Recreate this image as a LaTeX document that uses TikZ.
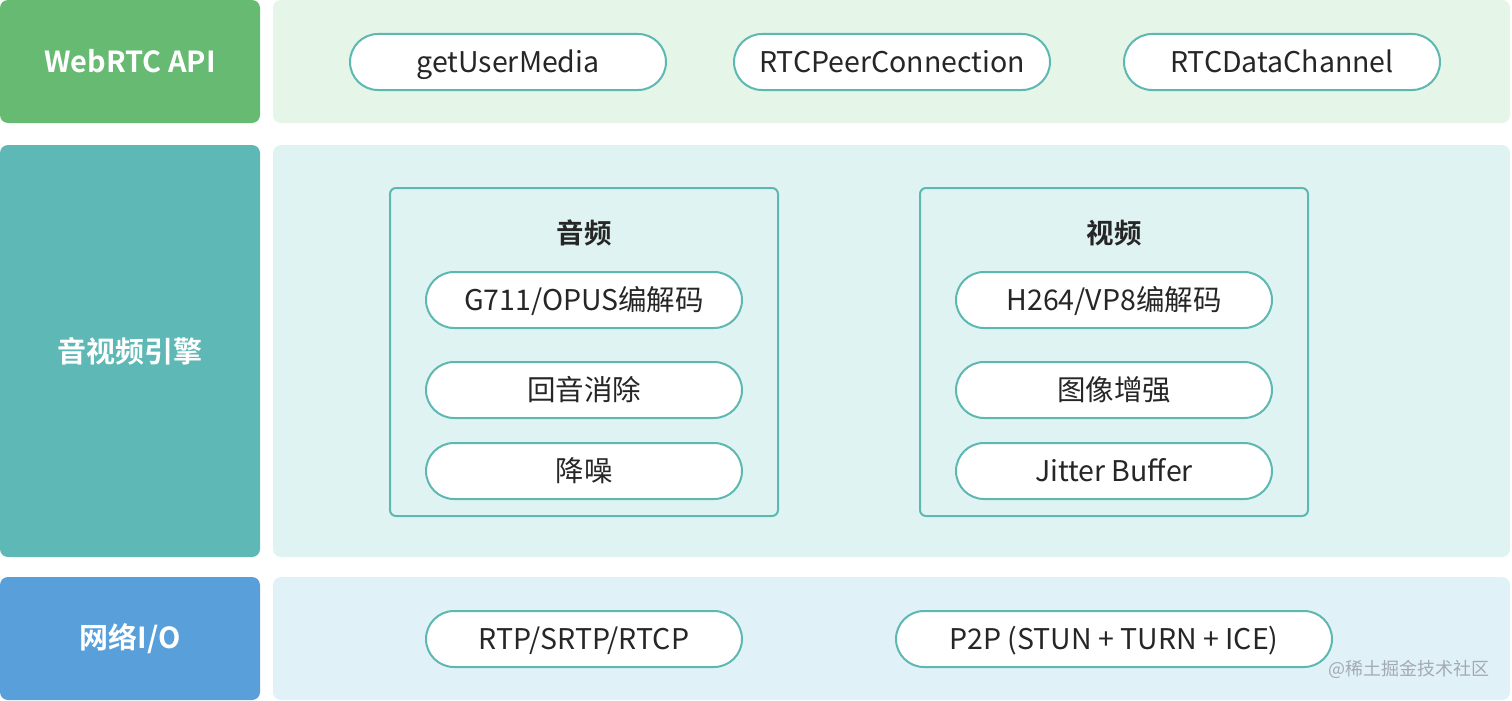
\documentclass[tikz,border=0pt]{standalone}
\usepackage{fontspec}
\setmainfont{Noto Sans CJK SC}[BoldFont={Noto Sans CJK SC Bold}]
\usetikzlibrary{positioning}
\definecolor{apigreen}{HTML}{67BA72}
\definecolor{engteal}{HTML}{5DB8B6}
\definecolor{netblue}{HTML}{599FDA}
\definecolor{apibg}{HTML}{E5F5E7}
\definecolor{engbg}{HTML}{DFF4F2}
\definecolor{netbg}{HTML}{E1F1F8}
\definecolor{pillline}{HTML}{5DB8B2}
\definecolor{marktext}{HTML}{A3AAB2}
\tikzset{
  lab/.style={rounded corners=8pt, text=white, font=\bfseries\fontsize{29}{34}\selectfont, minimum width=260pt, inner sep=0pt},
  panel/.style={rounded corners=8pt, minimum width=1237pt, inner sep=0pt},
  pill/.style={draw=pillline, line width=2pt, fill=white, rounded corners=28pt, minimum width=316pt, minimum height=56pt, inner sep=0pt, text height=24pt, text depth=3pt, text=black!85, font=\fontsize{28.5}{33}\selectfont},
  group/.style={draw=pillline, line width=2pt, rounded corners=6pt, minimum width=388pt, minimum height=328pt, inner sep=0pt},
  grouptitle/.style={font=\bfseries\fontsize{27.5}{32}\selectfont, text=black!85}
}
\begin{document}
\begin{tikzpicture}[x=1pt,y=-1pt]
\useasboundingbox (0,0) rectangle (1512,701);

\node[lab, fill=apigreen, minimum height=123pt] (api) at (130,61.5) {WebRTC API};
\node[lab, fill=engteal, minimum height=412pt] (eng) at (130,351) {音视频引擎};
\node[lab, fill=netblue, minimum height=123pt] (net) at (130,638.5) {网络I/O};

\node[panel, fill=apibg, minimum height=123pt] (apipanel) at (891.5,61.5) {};
\node[panel, fill=engbg, minimum height=412pt] (engpanel) at (891.5,351) {};
\node[panel, fill=netbg, minimum height=123pt] (netpanel) at (891.5,638.5) {};

\node[pill] (gum) at (508,62) {getUserMedia};
\node[pill] (rpc) at (892,62) {RTCPeerConnection};
\node[pill] (rdc) at (1282,62) {RTCDataChannel};

\node[group] (audio) at (584,352) {};
\node[group] (video) at (1114,352) {};
\node[grouptitle] (atitle) at (584,233) {音频};
\node[grouptitle] (vtitle) at (1114,233) {视频};

\node[pill] (acodec) at (584,300) {G711/OPUS编解码};
\node[pill] (aec) at (584,390) {回音消除};
\node[pill] (ns) at (584,471) {降噪};

\node[pill] (vcodec) at (1114,300) {H264/VP8编解码};
\node[pill] (enh) at (1114,390) {图像增强};
\node[pill] (jb) at (1114,471) {Jitter Buffer};

\node[pill] (rtp) at (584,639) {RTP/SRTP/RTCP};
\node[pill, minimum width=436pt] (p2p) at (1114,639) {P2P (STUN + TURN + ICE)};

\node[text=marktext, font=\fontsize{18}{21}\selectfont, anchor=east] (mark) at (1493,669) {@稀土掘金技术社区};
\end{tikzpicture}
\end{document}
